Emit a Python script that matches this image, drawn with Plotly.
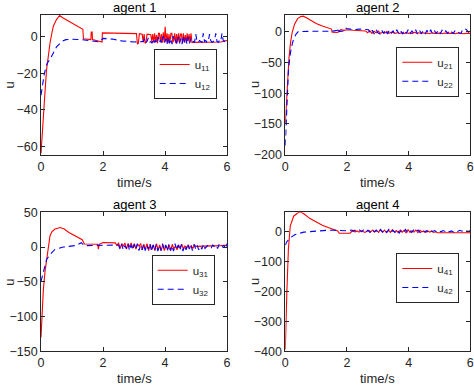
import numpy as np
import plotly.graph_objects as go

# ---------------- data ----------------
# Agent 1
u11_t = [0, 0.03, 0.075, 0.13, 0.18, 0.24, 0.29, 0.35, 0.4, 0.5, 0.6, 0.7, 0.85, 1.0, 1.2, 1.35,
         1.37, 1.5, 1.61, 1.62, 1.65, 1.66, 1.8, 1.97, 1.98, 2.5, 3.05]
u11_y = [-64, -55, -44, -30, -18, -9, -3.5, 2, 6, 9.5, 11.8, 10.5, 9, 7.5, 5.5, 4.2,
         -1, -1.3, -1.5, 2.7, 2.7, -1.5, -2, -2.8, 2.2, 2.0, 1.8]
u11_chat_span = [3.08, 4.9]
u11_chat = [1.8, -4, -3.5, 1.8, 1.8, 1.8, 1.5, -3, 1.5, -3.5, -3, 1.5, 1.5, 1.5, 1.2, 1.2, -2.5,
            1.5, -3, 2, -3, 1, -3.5, 2, 2, -3, 1.5, -3, 2.5, -3, 5.5, -3, 2, -3.5, 1.5, -3, 2, 2,
            -3, -2, 2, -3.5, 1.5, -3, 2, -3, 1.5, 1.5, -3.5, 2, -3, 1, -3, 2, -2.5, 1.5, -3, 2, -3, -3]
u11_tail_t = [4.92, 5.5, 5.8, 6.0]
u11_tail_y = [-3, -3.2, -2.8, -2]

u12_t = [0, 0.05, 0.1, 0.15, 0.2, 0.3, 0.4, 0.5, 0.6, 0.7, 0.8, 1.0, 1.3, 1.6, 1.9, 2.0, 2.3, 2.6, 3.0]
u12_y = [-32, -26, -21, -17, -14.5, -12, -8.5, -5.5, -3.8, -2.2, -1.5, -1.3, -1.5, -2, -2.8, -0.8,
         -1.2, -2.2, -2.8]
u12_chat_span = [3.3, 6.0]
u12_chat = [-2.5, -1, -3, -2.5, -0.5, -3, -2.5, -3.5, -1, -3, -2, -3.5, 0, -3, -1.5, -3.5, 0.5, -3,
            -1, -4, 0, -3.5, -1, -4, 0.5, -3, -1.5, -4, 0, -3.5, -1, -4, 0.5, -3, -0.5, -4, 0, -3.5,
            -1, -3, -2.5, -3, 1.5, -2.5, -3, -2, -2.5, -3, 2, -2.5, -2, -3, -2.5, 1.5, -2, -3, -2.5,
            -2, 2, -2.5, -3, -2, -2.5, 2, -2, -2.5, -1.5, -2]
u12_tail_t = []
u12_tail_y = []

# Agent 2
u21_t = [0, 0.02, 0.05, 0.08, 0.12, 0.17, 0.22, 0.3, 0.4, 0.5, 0.58, 0.7, 0.85, 1.0, 1.2, 1.4, 1.5,
         1.52, 1.7, 1.75, 1.8, 1.9, 2.0, 2.2, 2.5]
u21_y = [-150, -130, -95, -70, -42, -18, -2, 12, 21, 24.5, 25, 22, 17, 13, 9, 6, 4,
         -1, -1.5, 1, 3, 2, 3, 2, 1.5]
u21_chat_span = [2.6, 6.0]
u21_chat = [1, -2, 1.5, -3, 0.5, -2, 1, -3, -1, -2.5, 0, -3, -1, -2, -3, -1.5, -3, -2, -3.5, -1.5,
            -3, -2, -3.5, -1, -3, -2, -3.5, -2, -3, -2.5, -3.5, -2, -3, -2.5, -3, -2, -3.5, -2.5,
            -3, -2.5, -3, -3, -3.5, -2.5, -3, -3, -3.5, -3, -3, -3]
u21_tail_t = []
u21_tail_y = []

u22_t = [0, 0.03, 0.07, 0.1, 0.15, 0.2, 0.27, 0.35, 0.42, 0.6, 1.0, 1.5, 1.7, 1.72, 1.75, 1.9,
         1.95, 2.0, 2.2, 2.4, 2.6]
u22_y = [-185, -150, -100, -65, -40, -25, -12, -4, 0, 0.5, 0.5, 0.5, 2, 6, 0, 1, 6, 5, 3, 4, 3]
u22_chat_span = [2.7, 6.0]
u22_chat = [3, -3, 2, -4, 3, -2, -4, 2, -3, 3, -4, 2, -3, 1, -4, 3, -3, 2, -4, 2, -3, 3, -4, 1, -3,
            3, -4, 2, -3, 1, -4, 2, -3, 3, -4, 1, -3, 2, -4, 2, -2, 1, -3, 2, -1, -3, 2, 1, -2, -3,
            3, 5, 3, -1, 2]
u22_tail_t = []
u22_tail_y = []

# Agent 3
u31_t = [0, 0.03, 0.075, 0.13, 0.18, 0.24, 0.29, 0.35, 0.45, 0.62, 0.75, 0.9, 1.1, 1.33, 1.4,
         1.6, 1.83, 1.85, 1.88, 2.0, 2.3]
u31_y = [-130, -100, -62, -35, -18, 0, 16, 22, 26, 28, 26, 21, 16, 10.5, 4.3, 4, 4, -3, 4, 6.6, 6.5]
u31_chat_span = [2.4, 5.0]
u31_chat = [6, 2, 6, -2, 5, 1, 6, -3, 5, 0, 6, -2, 5, -3, 4, 1, 5, -4, 4, -3, 5, -5, 4, -4, 3, -5,
            5, -4, 3, -5, 4, -5, 2, -4, 3, -5, 4, -3, 2, -4, 3, -2, 4, -3, 2, -2, 3, -1, 2, -2, 3, 1]
u31_tail_t = [5.05, 5.5, 5.8, 6.0]
u31_tail_y = [1, 1.5, 2, 2.5]

u32_t = [0, 0.075, 0.18, 0.29, 0.45, 0.72, 1.15, 1.25, 1.3, 1.4, 1.8, 2.2, 2.4]
u32_y = [-49.5, -37, -18, -10.7, -3.4, 0, 2.4, 5, 6.3, 2, 2, 2.5, 2]
u32_chat_span = [2.5, 6.0]
u32_chat = [3, -3, 4, -4, 2, -2, 5, -5, 3, -4, 4, -3, 5, -5, 2, -4, 4, -5, 3, -3, 5, -6, 3, -5, 4,
            -6, 2, -5, 5, -4, 3, -6, 4, -5, 2, -6, 5, -4, 3, -5, 4, -6, 2, -4, 5, -3, 3, -5, 4, -2,
            3, -4, 1, -3, 4, -2, 0, 3, 1, -1, 3, 0, 2, -2, 4, 1, 0, 3, -3, 5]
u32_tail_t = []
u32_tail_y = []

# Agent 4
u41_t = [0, 0.02, 0.05, 0.1, 0.16, 0.27, 0.43, 0.5, 0.6, 0.8, 1.0, 1.2, 1.39, 1.6, 1.7, 1.75, 2.1, 2.15]
u41_y = [-394, -300, -205, -61, 17, 50, 63, 64, 58, 42, 30, 20, 12, 4.3, 1, -6.7, -6.7, -1]
u41_chat_span = [2.2, 5.0]
u41_chat = [0, -2, 1, -3, 2, -1, -4, 0, 3, -2, 4, -3, 2, -4, 5, -3, 4, -5, 3, -4, 5, -3, 2, -5, 4,
            -3, 3, -5, 5, -4, 2, -3, 4, -5, 3, -2, 1, -4, 2, -3, 0, -4, -2, -5, -4]
u41_tail_t = [5.05, 5.5, 5.8, 6.0]
u41_tail_y = [-5, -5, -4, -5]

u42_t = [0, 0.05, 0.16, 0.32, 0.6, 0.9, 1.13, 1.35, 1.6, 1.9]
u42_y = [-46, -35, -22, -11, -3, 0, 2, 3, 3, 2]
u42_chat_span = [2.0, 6.0]
u42_chat = [3, 1, 4, 2, 3, 0, 4, -2, 5, -3, 3, -4, 5, -2, 4, -5, 6, -3, 5, -4, 6, -5, 3, -4, 5, -6,
            4, -3, 6, -5, 3, -4, 5, -2, 4, -5, 3, -3, 2, -4, 3, -1, 2, -3, 1, -2, 2, -1, 3, -2, 1,
            -3, 2, -1, 3, 0, 4, 1, -1, 2]
u42_tail_t = []
u42_tail_y = []

titles = ["agent 1", "agent 2", "agent 3", "agent 4"]
y_ranges = [[-64.7, 12.3], [-200, 27.7], [-150, 50], [-400, 63]]
y_ticks = [[-60, -40, -20, 0], [-200, -150, -100, -50, 0], [-150, -100, -50, 0, 50],
           [-400, -300, -200, -100, 0]]
x_ticks = [0, 2, 4, 6]


def build(t, y, span, chat, tt, ty):
    ct = np.linspace(span[0], span[1], len(chat)).tolist()
    return t + ct + tt, y + chat + ty


series = [
    (build(u11_t, u11_y, u11_chat_span, u11_chat, u11_tail_t, u11_tail_y),
     build(u12_t, u12_y, u12_chat_span, u12_chat, u12_tail_t, u12_tail_y), "11", "12"),
    (build(u21_t, u21_y, u21_chat_span, u21_chat, u21_tail_t, u21_tail_y),
     build(u22_t, u22_y, u22_chat_span, u22_chat, u22_tail_t, u22_tail_y), "21", "22"),
    (build(u31_t, u31_y, u31_chat_span, u31_chat, u31_tail_t, u31_tail_y),
     build(u32_t, u32_y, u32_chat_span, u32_chat, u32_tail_t, u32_tail_y), "31", "32"),
    (build(u41_t, u41_y, u41_chat_span, u41_chat, u41_tail_t, u41_tail_y),
     build(u42_t, u42_y, u42_chat_span, u42_chat, u42_tail_t, u42_tail_y), "41", "42"),
]

# ---------------- layout geometry ----------------
W, H = 474, 386
FONT = "Liberation Sans, Arial, sans-serif"
AX = "#262626"
xdom = [[41 / W, 227 / W], [285.3 / W, 470.3 / W]]
ydom = [[1 - 154.7 / H, 1 - 14.5 / H], [1 - 351.3 / H, 1 - 212.3 / H]]
legpos = [(153.7, 49), (396.3, 46.7), (151.7, 254.7), (396.3, 253)]

fig = go.Figure()
layout = dict(width=W, height=H, margin=dict(l=0, r=0, t=0, b=0, pad=0, autoexpand=False),
              paper_bgcolor="white", plot_bgcolor="white",
              font=dict(family=FONT, size=12, color=AX), showlegend=True)
annotations = []

for i, ((t1, y1), (t2, y2), n1, n2) in enumerate(series):
    r, c = divmod(i, 2)
    sfx = "" if i == 0 else str(i + 1)
    leg = "legend" + sfx
    fig.add_trace(go.Scatter(x=t1, y=y1, mode="lines", name=f"u<sub>{n1}</sub>",
                             line=dict(color="#ff0000", width=1.1), xaxis="x" + sfx,
                             yaxis="y" + sfx, legend=leg))
    fig.add_trace(go.Scatter(x=t2, y=y2, mode="lines", name=f"u<sub>{n2}</sub>",
                             line=dict(color="#0000ff", width=1.1, dash="6px,4px"),
                             xaxis="x" + sfx, yaxis="y" + sfx, legend=leg))
    common = dict(showline=True, linecolor=AX, linewidth=0.8, mirror="ticks", ticks="inside",
                  ticklen=4, tickcolor=AX, tickwidth=0.8, showgrid=False, zeroline=False,
                  automargin=False, tickfont=dict(family=FONT, size=12.5, color=AX))
    layout["xaxis" + sfx] = dict(domain=xdom[c], range=[0, 6], tickvals=x_ticks,
                                 anchor="y" + sfx, **common)
    layout["yaxis" + sfx] = dict(domain=ydom[r], range=y_ranges[i], tickvals=y_ticks[i],
                                 anchor="x" + sfx, **common)
    lx, ly = legpos[i]
    layout[leg] = dict(x=lx / W, y=1 - ly / H, xanchor="left", yanchor="top", bgcolor="white",
                       bordercolor=AX, borderwidth=1, font=dict(family=FONT, size=11.5, color=AX),
                       tracegroupgap=0)
    xc = (xdom[c][0] + xdom[c][1]) / 2
    ytop = ydom[r][1]
    ybot = ydom[r][0]
    annotations.append(dict(text=titles[i], x=xc, y=ytop + 7.5 / H, xref="paper", yref="paper",
                            xanchor="center", yanchor="middle", showarrow=False,
                            font=dict(family=FONT, size=13, color="black")))
    annotations.append(dict(text="time/s", x=xc, y=ybot - 27.5 / H, xref="paper", yref="paper",
                            xanchor="center", yanchor="middle", showarrow=False,
                            font=dict(family=FONT, size=13, color=AX)))
    annotations.append(dict(text="u", x=xdom[c][0] - 31 / W, y=(ydom[r][0] + ydom[r][1]) / 2,
                            xref="paper", yref="paper", xanchor="center", yanchor="middle",
                            showarrow=False, textangle=-90,
                            font=dict(family=FONT, size=13, color=AX)))

layout["annotations"] = annotations
fig.update_layout(**layout)
fig.write_html("out.html", config={"displayModeBar": False},
               post_script="document.body.style.margin='0';document.body.style.padding='0';"
                           "document.body.style.overflow='hidden';")
